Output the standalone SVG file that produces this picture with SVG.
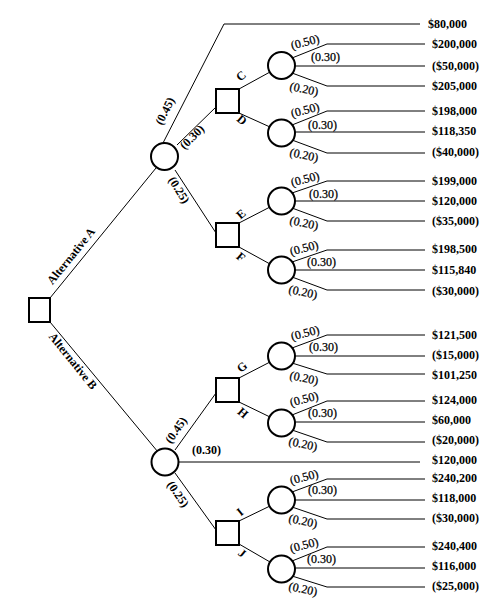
<svg xmlns="http://www.w3.org/2000/svg" width="498" height="603" viewBox="0 0 498 603">
<style>
.ln{fill:none;stroke:#000;stroke-width:1}
.dec{fill:#fff;stroke:#000;stroke-width:2}
.ch{fill:#fff;stroke:#000;stroke-width:2}
text{font-family:"Liberation Serif","Times New Roman",serif;font-size:12px;font-weight:bold;fill:#000}
#probs text{font-weight:normal;stroke:#000;stroke-width:0.25}
.v{text-anchor:start}
.m{text-anchor:middle}
</style>
<rect width="498" height="603" fill="#fff"/>
<g id="connectors">
<path class="ln" d="M50 298 L156 168"/>
<path class="ln" d="M50 322 L158 452"/>
<path class="ln" d="M163 143 L224 24 H420"/>
<path class="ln" d="M177 145 L216 107"/>
<path class="ln" d="M175 170 L216 233"/>
<path class="ln" d="M175 450 L216 393"/>
<path class="ln" d="M178 462 H420"/>
<path class="ln" d="M175 473 L216 530"/>
<path class="ln" d="M239 89 L270 72"/>
<path class="ln" d="M239 113 L270 127"/>
<path class="ln" d="M239 223 L270 207"/>
<path class="ln" d="M239 247 L270 264"/>
<path class="ln" d="M239 378 L270 362"/>
<path class="ln" d="M239 402 L270 417"/>
<path class="ln" d="M239 521 L270 506"/>
<path class="ln" d="M239 544 L270 562"/>
<path class="ln" d="M292 58 L327 44 H425 M294 66 H425 M292 73 L327 86 H425"/>
<path class="ln" d="M292 125 L327 111 H425 M294 132 H425 M292 140 L327 153 H425"/>
<path class="ln" d="M292 193 L327 181 H425 M294 201 H425 M292 208 L327 221 H425"/>
<path class="ln" d="M292 262 L327 250 H425 M294 270 H425 M292 277 L327 290 H425"/>
<path class="ln" d="M292 348 L327 335 H425 M294 356 H425 M292 363 L327 374 H425"/>
<path class="ln" d="M292 415 L327 401 H425 M294 422 H425 M292 430 L327 442 H425"/>
<path class="ln" d="M292 492 L327 479 H425 M294 500 H425 M292 507 L327 519 H425"/>
<path class="ln" d="M292 561 L327 547 H425 M294 568 H425 M292 576 L327 587 H425"/>
</g>
<g id="root"><rect class="dec" x="29" y="298" width="21" height="24"/></g>
<g id="chanceA"><circle class="ch" cx="164.5" cy="156.5" r="13.5"/></g>
<g id="chanceB"><circle class="ch" cx="165" cy="462" r="13.5"/></g>
<g id="decCD"><rect class="dec" x="216" y="89" width="23" height="24"/></g>
<g id="decEF"><rect class="dec" x="216" y="223" width="23" height="24"/></g>
<g id="decGH"><rect class="dec" x="216" y="378" width="23" height="24"/></g>
<g id="decIJ"><rect class="dec" x="216" y="521" width="23" height="24"/></g>
<g id="chC"><circle class="ch" cx="281.5" cy="65.5" r="13.5"/></g>
<g id="chD"><circle class="ch" cx="281.5" cy="133" r="13.5"/></g>
<g id="chE"><circle class="ch" cx="281.5" cy="201" r="13.5"/></g>
<g id="chF"><circle class="ch" cx="281.5" cy="270" r="13.5"/></g>
<g id="chG"><circle class="ch" cx="281.5" cy="356" r="13.5"/></g>
<g id="chH"><circle class="ch" cx="281.5" cy="423" r="13.5"/></g>
<g id="chI"><circle class="ch" cx="281.5" cy="500" r="13.5"/></g>
<g id="chJ"><circle class="ch" cx="281.5" cy="569" r="13.5"/></g>
<g id="labels">
<text class="m" transform="translate(71 256) rotate(-51)" y="4">Alternative A</text>
<text class="m" transform="translate(73 361) rotate(51)" y="4">Alternative B</text>
<text class="m" transform="translate(165 111) rotate(-63)" y="4">(0.45)</text>
<text class="m" transform="translate(192 137) rotate(-45)" y="4">(0.30)</text>
<text class="m" transform="translate(179 190) rotate(58)" y="4">(0.25)</text>
<text class="m" transform="translate(176 430) rotate(-55)" y="4">(0.45)</text>
<text class="v" x="192" y="454">(0.30)</text>
<text class="m" transform="translate(178 494) rotate(55)" y="4">(0.25)</text>
<text class="m" transform="translate(241 76) rotate(-40)" y="4">C</text>
<text class="m" transform="translate(242 120) rotate(40)" y="4">D</text>
<text class="m" transform="translate(241 214) rotate(-40)" y="4">E</text>
<text class="m" transform="translate(241 257) rotate(40)" y="4">F</text>
<text class="m" transform="translate(242 367) rotate(-40)" y="4">G</text>
<text class="m" transform="translate(243 413) rotate(40)" y="4">H</text>
<text class="m" transform="translate(240 512) rotate(-40)" y="4">I</text>
<text class="m" transform="translate(242 553) rotate(40)" y="4">J</text>
</g>
<g id="probs">
<text class="m" transform="translate(305 42) rotate(-15)" y="4">(0.50)</text><text class="v" x="311" y="61">(0.30)</text><text class="m" transform="translate(304 89) rotate(12)" y="4">(0.20)</text>
<text class="m" transform="translate(305 110) rotate(-15)" y="4">(0.50)</text><text class="v" x="308" y="129">(0.30)</text><text class="m" transform="translate(304 155) rotate(12)" y="4">(0.20)</text>
<text class="m" transform="translate(305 179) rotate(-15)" y="4">(0.50)</text><text class="v" x="309" y="198">(0.30)</text><text class="m" transform="translate(304 223) rotate(12)" y="4">(0.20)</text>
<text class="m" transform="translate(304 248) rotate(-15)" y="4">(0.50)</text><text class="v" x="307" y="266">(0.30)</text><text class="m" transform="translate(303 292) rotate(12)" y="4">(0.20)</text>
<text class="m" transform="translate(305 333) rotate(-15)" y="4">(0.50)</text><text class="v" x="309" y="351">(0.30)</text><text class="m" transform="translate(304 378) rotate(12)" y="4">(0.20)</text>
<text class="m" transform="translate(304 399) rotate(-15)" y="4">(0.50)</text><text class="v" x="308" y="417">(0.30)</text><text class="m" transform="translate(303 444) rotate(12)" y="4">(0.20)</text>
<text class="m" transform="translate(304 477) rotate(-15)" y="4">(0.50)</text><text class="v" x="308" y="494">(0.30)</text><text class="m" transform="translate(303 521) rotate(12)" y="4">(0.20)</text>
<text class="m" transform="translate(304 545) rotate(-15)" y="4">(0.50)</text><text class="v" x="307" y="563">(0.30)</text><text class="m" transform="translate(303 589) rotate(12)" y="4">(0.20)</text>
</g>
<g id="values">
<text class="v" x="428" y="28">$80,000</text>
<text class="v" x="432" y="48">$200,000</text>
<text class="v" x="432" y="70">($50,000)</text>
<text class="v" x="432" y="90">$205,000</text>
<text class="v" x="432" y="115">$198,000</text>
<text class="v" x="432" y="135">$118,350</text>
<text class="v" x="432" y="156">($40,000)</text>
<text class="v" x="432" y="185">$199,000</text>
<text class="v" x="432" y="205">$120,000</text>
<text class="v" x="432" y="225">($35,000)</text>
<text class="v" x="432" y="253">$198,500</text>
<text class="v" x="432" y="274">$115,840</text>
<text class="v" x="432" y="295">($30,000)</text>
<text class="v" x="432" y="339">$121,500</text>
<text class="v" x="432" y="359">($15,000)</text>
<text class="v" x="432" y="379">$101,250</text>
<text class="v" x="432" y="404">$124,000</text>
<text class="v" x="432" y="424">$60,000</text>
<text class="v" x="432" y="444">($20,000)</text>
<text class="v" x="432" y="464">$120,000</text>
<text class="v" x="432" y="482">$240,200</text>
<text class="v" x="432" y="502">$118,000</text>
<text class="v" x="432" y="522">($30,000)</text>
<text class="v" x="432" y="550">$240,400</text>
<text class="v" x="432" y="570">$116,000</text>
<text class="v" x="432" y="590">($25,000)</text>
</g>
</svg>
